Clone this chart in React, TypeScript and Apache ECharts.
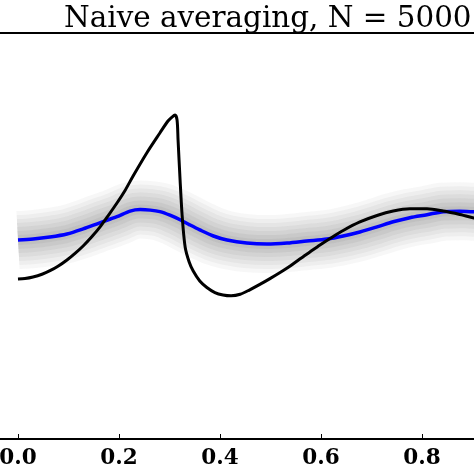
import React, { useEffect, useRef } from "react";
import * as echarts from "echarts";

// x positions along the interval [0, 1)
const truthX = [0.0, 0.0139, 0.0297, 0.0475, 0.0634, 0.0792, 0.097, 0.113, 0.129, 0.147, 0.163, 0.178, 0.196, 0.212, 0.228, 0.255, 0.281, 0.297, 0.305, 0.311, 0.315, 0.317, 0.321, 0.325, 0.331, 0.339, 0.347, 0.36, 0.374, 0.39, 0.406, 0.422, 0.44, 0.459, 0.479, 0.499, 0.519, 0.539, 0.558, 0.578, 0.598, 0.618, 0.644, 0.677, 0.711, 0.743, 0.776, 0.81, 0.842, 0.875, 0.903, 0.935];
// ground-truth signal
const truthY = [-0.424, -0.419, -0.404, -0.377, -0.342, -0.298, -0.236, -0.171, -0.098, -0.002, 0.093, 0.196, 0.325, 0.449, 0.591, 0.818, 1.015, 1.133, 1.172, 1.192, 1.143, 0.946, 0.552, 0.207, -0.108, -0.256, -0.345, -0.443, -0.507, -0.557, -0.581, -0.589, -0.574, -0.53, -0.477, -0.42, -0.36, -0.296, -0.227, -0.158, -0.089, -0.025, 0.054, 0.138, 0.202, 0.246, 0.268, 0.268, 0.246, 0.212, 0.177, 0.138];

// naive average of the N aligned noisy observations
const meanX = [0.0, 0.03, 0.063, 0.097, 0.129, 0.162, 0.196, 0.222, 0.242, 0.262, 0.281, 0.301, 0.321, 0.34, 0.36, 0.387, 0.414, 0.453, 0.493, 0.533, 0.572, 0.612, 0.644, 0.677, 0.711, 0.743, 0.776, 0.81, 0.842, 0.875, 0.901, 0.93];
const meanY = [-0.04, -0.03, -0.01, 0.02, 0.07, 0.13, 0.19, 0.245, 0.26, 0.255, 0.24, 0.205, 0.16, 0.11, 0.06, 0.0, -0.04, -0.07, -0.08, -0.07, -0.05, -0.03, 0.0, 0.04, 0.09, 0.14, 0.18, 0.21, 0.24, 0.245, 0.24, 0.24];

// soft spread of the individual observations around the average
const spreadWidths = [58, 50, 42, 34, 26, 18, 10];
const spreadAlpha = [0.045, 0.05, 0.055, 0.06, 0.065, 0.065, 0.065];

// visible x range and tick values
const xRange = [-0.0356, 0.903];
const xTickValues = [0.0, 0.2, 0.4, 0.6, 0.8];
const title = "Naive averaging, N = 5000";

const zip = (xs: number[], ys: number[]) => xs.map((x, i) => [x, ys[i]]);

export default function App() {
  const ref = useRef<HTMLDivElement>(null);
  useEffect(() => {
    if (!ref.current) return;
    const chart = echarts.init(ref.current, undefined, { renderer: "svg" });
    const meanData = zip(meanX, meanY);
    const spreadSeries = spreadWidths.map((w, i) => ({
      type: "line",
      data: meanData,
      smooth: 0.3,
      symbol: "none",
      silent: true,
      lineStyle: { width: w, color: `rgba(70,70,70,${spreadAlpha[i]})`, cap: "butt" },
      z: 1,
    }));
    chart.setOption({
      animation: false,
      title: {
        text: title,
        left: 64,
        top: 2,
        padding: 0,
        textStyle: { fontFamily: "DejaVu Serif", fontSize: 29.4, fontWeight: "normal", color: "#000" },
      },
      grid: { left: 0, right: 0, top: 33, bottom: 35, containLabel: false, outerBoundsMode: "none" },
      xAxis: [
        {
          type: "value",
          position: "bottom",
          min: xRange[0],
          max: xRange[1],
          axisLine: { show: true, onZero: false, lineStyle: { color: "#000", width: 2 } },
          axisTick: { show: true, inside: true, length: 5, customValues: xTickValues, lineStyle: { color: "#000", width: 1 } },
          axisLabel: {
            customValues: xTickValues,
            formatter: (v: number) => v.toFixed(1),
            fontFamily: "DejaVu Serif",
            fontWeight: "bold",
            fontSize: 21.5,
            color: "#000",
            margin: 6,
          },
          splitLine: { show: false },
        },
        {
          type: "value",
          position: "top",
          min: xRange[0],
          max: xRange[1],
          axisLine: { show: true, onZero: false, lineStyle: { color: "#000", width: 2 } },
          axisTick: { show: false },
          axisLabel: { show: false },
          splitLine: { show: false },
        },
      ],
      yAxis: { type: "value", min: -2, max: 2, show: false },
      series: [
        ...spreadSeries,
        {
          type: "line",
          data: meanData,
          smooth: 0.3,
          symbol: "none",
          lineStyle: { width: 3.5, color: "#0000ff" },
          z: 3,
        },
        {
          type: "line",
          data: zip(truthX, truthY),
          smooth: 0.3,
          symbol: "none",
          lineStyle: { width: 3, color: "#000" },
          z: 4,
        },
      ],
    });
    return () => chart.dispose();
  }, []);
  return <div ref={ref} style={{ position: "fixed", left: 0, top: 0, width: 474, height: 474 }} />;
}
